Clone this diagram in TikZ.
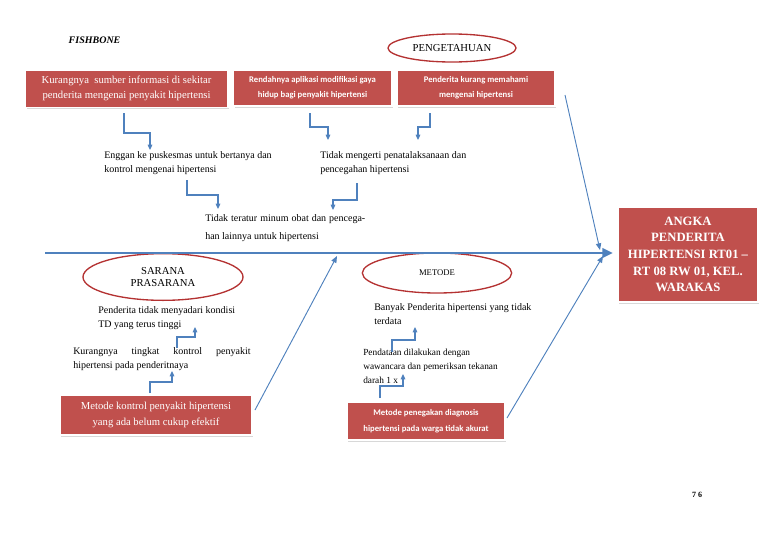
\documentclass[tikz,border=0pt]{standalone}
\usepackage{fontspec}
\setmainfont{Liberation Serif}
\newfontfamily\carl{Carlito}
\usetikzlibrary{shadows,arrows.meta,shapes.geometric}
\definecolor{boxred}{RGB}{192,80,77}
\definecolor{ellred}{RGB}{180,50,50}
\definecolor{lineblue}{RGB}{79,129,189}
\begin{document}
\begin{tikzpicture}[x=0.75pt,y=-0.75pt,
  box/.style={fill=boxred,draw=white,line width=1pt,text=white,align=center,inner sep=1pt,
    drop shadow={shadow xshift=1pt,shadow yshift=-1.5pt,fill=black!30}},
  ell/.style={ellipse,draw=ellred,line width=1pt,align=center,inner sep=0pt,font=\fontsize{8}{9.5}\selectfont},
  txt/.style={anchor=north west,align=left,font=\fontsize{7.5}{11}\selectfont,inner sep=0pt},
  con/.style={draw=lineblue,line width=0.8pt,-{Triangle[length=4pt,width=3.5pt]}},
  bone/.style={draw=lineblue,line width=0.7pt,-{Triangle[length=5pt,width=4pt]}}]
\useasboundingbox (0,0) rectangle (768,543);
\node[anchor=west,font=\bfseries\itshape\fontsize{7.5}{9}\selectfont] (title) at (64,40) {FISHBONE};
\node[ell,minimum width=96pt,minimum height=21pt] (peng) at (452,48) {PENGETAHUAN};
\node[ell,minimum width=120pt,minimum height=35pt] (sar) at (163,277) {SARANA\\PRASARANA};
\node[ell,minimum width=112pt,minimum height=30pt,font=\fontsize{6.5}{8}\selectfont] (met) at (437,273) {METODE};
\node[box,minimum width=152pt,minimum height=28pt,font=\fontsize{8}{11}\selectfont] (b1) at (126.5,88.5) {Kurangnya\ \ sumber informasi di sekitar\\penderita mengenai penyakit hipertensi};
\node[box,minimum width=119pt,minimum height=27pt,font=\carl\bfseries\fontsize{6.5}{11}\selectfont] (b2) at (312.5,88) {Rendahnya aplikasi modifikasi gaya\\hidup bagi penyakit hipertensi};
\node[box,minimum width=118.5pt,minimum height=27pt,font=\carl\bfseries\fontsize{6.5}{11}\selectfont] (b3) at (476,88) {Penderita kurang memahami\\mengenai hipertensi};
\node[box,minimum width=105pt,minimum height=71pt,font=\bfseries\fontsize{9.5}{12.5}\selectfont] (eff) at (688,254.5) {ANGKA\\PENDERITA\\HIPERTENSI RT01 --\\RT 08 RW 01, KEL.\\WARAKAS};
\node[box,minimum width=144pt,minimum height=30pt,font=\fontsize{8}{12}\selectfont] (b4) at (156,415) {Metode kontrol penyakit hipertensi\\yang ada belum cukup efektif};
\node[box,minimum width=118.5pt,minimum height=28.5pt,font=\carl\bfseries\fontsize{6.5}{12}\selectfont] (b5) at (426,421) {Metode penegakan diagnosis\\hipertensi pada warga tidak akurat};
\node[txt] (t1) at (104,151) {Enggan ke puskesmas untuk bertanya dan\\kontrol mengenai hipertensi};
\node[txt,text width=120pt,align=justify,font=\fontsize{7.5}{14}\selectfont] (t3) at (205,214) {Tidak teratur minum obat dan pencegahan lainnya untuk hipertensi};
\node[txt] (t2) at (320,151) {Tidak mengerti penatalaksanaan dan\\pencegahan hipertensi};
\node[txt] (t4) at (98,306) {Penderita tidak menyadari kondisi\\TD yang terus tinggi};
\node[txt,text width=133pt,align=justify] (t5) at (73,347) {Kurangnya tingkat kontrol penyakit hipertensi pada penderitnaya};
\node[txt] (t6) at (374,303) {Banyak Penderita hipertensi yang tidak\\terdata};
\node[txt,font=\fontsize{7}{10.5}\selectfont] (t7) at (363,349) {Pendataan dilakukan dengan\\wawancara dan pemeriksan tekanan\\darah 1 x};
\node[font=\bfseries\fontsize{6}{7}\selectfont] (pg) at (697,495) {7 6};
\coordinate (s0) at (45,253);
\coordinate (s1) at (613,253);
\draw[draw=lineblue,line width=2pt,-{Triangle[length=8pt,width=7pt]}] (s0) -- (s1);
\coordinate (u1) at (565,95); \coordinate (v1) at (600,250);
\coordinate (u2) at (255,410); \coordinate (v2) at (337,256);
\coordinate (u3) at (507,418); \coordinate (v3) at (603,256);
\draw[bone] (u1) -- (v1);
\draw[bone] (u2) -- (v2);
\draw[bone] (u3) -- (v3);
\draw[con] (124,113) |- (150,133) -- (150,150);
\draw[con] (310,113) |- (328,127) -- (328,140);
\draw[con] (430,113) |- (418,127) -- (418,140);
\draw[con] (187,180) |- (218,195) -- (218,209);
\draw[con] (357,183) |- (333,200) -- (333,210);
\draw[con] (177,348) |- (195,337) -- (195,327);
\draw[con] (150,393) |- (172,382) -- (172,371);
\draw[con] (392,352) |- (415,340) -- (415,327);
\draw[con] (380,398) |- (403,386) -- (403,374);
\end{tikzpicture}
\end{document}
